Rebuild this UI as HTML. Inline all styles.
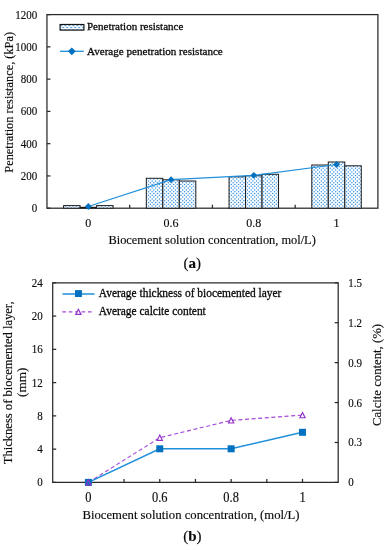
<!DOCTYPE html>
<html><head><meta charset="utf-8"><title>Figure</title>
<style>html,body{margin:0;padding:0;background:#fff}svg{display:block}text{font-family:"Liberation Serif",serif;fill:#0a0a0a;stroke:#0a0a0a;stroke-width:.15px}.lg{stroke-width:.3px}</style></head><body>
<svg width="392" height="550" viewBox="0 0 392 550">
<defs><pattern id="dots" width="18" height="18" patternUnits="userSpaceOnUse"><rect width="18" height="18" fill="#fff"/><g fill="#3391e5"><circle cx="0.900" cy="0.90" r="0.75"/><circle cx="2.700" cy="2.70" r="0.75"/><circle cx="0.900" cy="4.50" r="0.75"/><circle cx="2.700" cy="6.30" r="0.75"/><circle cx="0.900" cy="8.10" r="0.75"/><circle cx="2.700" cy="9.90" r="0.75"/><circle cx="0.900" cy="11.70" r="0.75"/><circle cx="2.700" cy="13.50" r="0.75"/><circle cx="0.900" cy="15.30" r="0.75"/><circle cx="2.700" cy="17.10" r="0.75"/><circle cx="4.500" cy="0.90" r="0.75"/><circle cx="6.300" cy="2.70" r="0.75"/><circle cx="4.500" cy="4.50" r="0.75"/><circle cx="6.300" cy="6.30" r="0.75"/><circle cx="4.500" cy="8.10" r="0.75"/><circle cx="6.300" cy="9.90" r="0.75"/><circle cx="4.500" cy="11.70" r="0.75"/><circle cx="6.300" cy="13.50" r="0.75"/><circle cx="4.500" cy="15.30" r="0.75"/><circle cx="6.300" cy="17.10" r="0.75"/><circle cx="8.100" cy="0.90" r="0.75"/><circle cx="9.900" cy="2.70" r="0.75"/><circle cx="8.100" cy="4.50" r="0.75"/><circle cx="9.900" cy="6.30" r="0.75"/><circle cx="8.100" cy="8.10" r="0.75"/><circle cx="9.900" cy="9.90" r="0.75"/><circle cx="8.100" cy="11.70" r="0.75"/><circle cx="9.900" cy="13.50" r="0.75"/><circle cx="8.100" cy="15.30" r="0.75"/><circle cx="9.900" cy="17.10" r="0.75"/><circle cx="11.700" cy="0.90" r="0.75"/><circle cx="13.500" cy="2.70" r="0.75"/><circle cx="11.700" cy="4.50" r="0.75"/><circle cx="13.500" cy="6.30" r="0.75"/><circle cx="11.700" cy="8.10" r="0.75"/><circle cx="13.500" cy="9.90" r="0.75"/><circle cx="11.700" cy="11.70" r="0.75"/><circle cx="13.500" cy="13.50" r="0.75"/><circle cx="11.700" cy="15.30" r="0.75"/><circle cx="13.500" cy="17.10" r="0.75"/><circle cx="15.300" cy="0.90" r="0.75"/><circle cx="17.100" cy="2.70" r="0.75"/><circle cx="15.300" cy="4.50" r="0.75"/><circle cx="17.100" cy="6.30" r="0.75"/><circle cx="15.300" cy="8.10" r="0.75"/><circle cx="17.100" cy="9.90" r="0.75"/><circle cx="15.300" cy="11.70" r="0.75"/><circle cx="17.100" cy="13.50" r="0.75"/><circle cx="15.300" cy="15.30" r="0.75"/><circle cx="17.100" cy="17.10" r="0.75"/></g></pattern><pattern id="dots2" width="4" height="4" patternUnits="userSpaceOnUse" patternTransform="translate(0.6 1)"><rect width="4" height="4" fill="#fff"/><circle cx="0.5" cy="0.5" r="0.85" fill="#2585dc"/><circle cx="2.5" cy="2.5" r="0.85" fill="#2585dc"/></pattern></defs>
<rect width="392" height="550" fill="#fff"/>
<rect x="46.95" y="14.6" width="330.95" height="193.6" fill="none" stroke="#2a2a2a" stroke-width="1.25"/>
<line x1="46.95" y1="208.20" x2="50.45" y2="208.20" stroke="#2a2a2a" stroke-width="1.25"/>
<text transform="translate(37.3 212.10) scale(0.86 1)" font-size="12.8" text-anchor="end">0</text>
<line x1="46.95" y1="175.93" x2="50.45" y2="175.93" stroke="#2a2a2a" stroke-width="1.25"/>
<text transform="translate(37.3 179.83) scale(0.86 1)" font-size="12.8" text-anchor="end">200</text>
<line x1="46.95" y1="143.67" x2="50.45" y2="143.67" stroke="#2a2a2a" stroke-width="1.25"/>
<text transform="translate(37.3 147.57) scale(0.86 1)" font-size="12.8" text-anchor="end">400</text>
<line x1="46.95" y1="111.40" x2="50.45" y2="111.40" stroke="#2a2a2a" stroke-width="1.25"/>
<text transform="translate(37.3 115.30) scale(0.86 1)" font-size="12.8" text-anchor="end">600</text>
<line x1="46.95" y1="79.13" x2="50.45" y2="79.13" stroke="#2a2a2a" stroke-width="1.25"/>
<text transform="translate(37.3 83.03) scale(0.86 1)" font-size="12.8" text-anchor="end">800</text>
<line x1="46.95" y1="46.87" x2="50.45" y2="46.87" stroke="#2a2a2a" stroke-width="1.25"/>
<text transform="translate(37.3 50.77) scale(0.86 1)" font-size="12.8" text-anchor="end">1000</text>
<line x1="46.95" y1="14.60" x2="50.45" y2="14.60" stroke="#2a2a2a" stroke-width="1.25"/>
<text transform="translate(37.3 18.50) scale(0.86 1)" font-size="12.8" text-anchor="end">1200</text>
<line x1="129.69" y1="208.2" x2="129.69" y2="204.7" stroke="#2a2a2a" stroke-width="1.25"/>
<line x1="212.43" y1="208.2" x2="212.43" y2="204.7" stroke="#2a2a2a" stroke-width="1.25"/>
<line x1="295.16" y1="208.2" x2="295.16" y2="204.7" stroke="#2a2a2a" stroke-width="1.25"/>
<text transform="translate(88.32 226.5) scale(0.89 1)" font-size="13.5" text-anchor="middle">0</text>
<text transform="translate(171.06 226.5) scale(0.89 1)" font-size="13.5" text-anchor="middle">0.6</text>
<text transform="translate(253.79 226.5) scale(0.89 1)" font-size="13.5" text-anchor="middle">0.8</text>
<text transform="translate(336.53 226.5) scale(0.89 1)" font-size="13.5" text-anchor="middle">1</text>
<rect x="63.57" y="205.6" width="16.5" height="2.60" fill="url(#dots)" stroke="#1c1c1c" stroke-width="1"/>
<rect x="80.07" y="207.3" width="16.5" height="0.90" fill="url(#dots)" stroke="#1c1c1c" stroke-width="1"/>
<rect x="96.57" y="205.6" width="16.5" height="2.60" fill="url(#dots)" stroke="#1c1c1c" stroke-width="1"/>
<rect x="146.31" y="178.3" width="16.5" height="29.90" fill="url(#dots)" stroke="#1c1c1c" stroke-width="1"/>
<rect x="162.81" y="179.8" width="16.5" height="28.40" fill="url(#dots)" stroke="#1c1c1c" stroke-width="1"/>
<rect x="179.31" y="181" width="16.5" height="27.20" fill="url(#dots)" stroke="#1c1c1c" stroke-width="1"/>
<rect x="229.04" y="176.8" width="16.5" height="31.40" fill="url(#dots)" stroke="#1c1c1c" stroke-width="1"/>
<rect x="245.54" y="175.8" width="16.5" height="32.40" fill="url(#dots)" stroke="#1c1c1c" stroke-width="1"/>
<rect x="262.04" y="174.3" width="16.5" height="33.90" fill="url(#dots)" stroke="#1c1c1c" stroke-width="1"/>
<rect x="311.78" y="165" width="16.5" height="43.20" fill="url(#dots)" stroke="#1c1c1c" stroke-width="1"/>
<rect x="328.28" y="162" width="16.5" height="46.20" fill="url(#dots)" stroke="#1c1c1c" stroke-width="1"/>
<rect x="344.78" y="165.8" width="16.5" height="42.40" fill="url(#dots)" stroke="#1c1c1c" stroke-width="1"/>
<polyline points="88.32,206.5 171.06,179.7 253.79,175.3 336.53,164.5" fill="none" stroke="#1f8fdc" stroke-width="1.2"/>
<path d="M84.92 206.5 L88.32 203.1 L91.72 206.5 L88.32 209.9 Z" fill="#0070c0"/>
<path d="M167.66 179.7 L171.06 176.29999999999998 L174.46 179.7 L171.06 183.1 Z" fill="#0070c0"/>
<path d="M250.39 175.3 L253.79 171.9 L257.19 175.3 L253.79 178.70000000000002 Z" fill="#0070c0"/>
<path d="M333.13 164.5 L336.53 161.1 L339.93 164.5 L336.53 167.9 Z" fill="#0070c0"/>
<rect x="60.1" y="24.5" width="23.8" height="5.6" fill="url(#dots2)" stroke="#111" stroke-width="1.2"/>
<text x="87" y="30.3" font-size="11.4" textLength="96.3" lengthAdjust="spacingAndGlyphs" class="lg">Penetration resistance</text>
<line x1="60" y1="51.3" x2="83.8" y2="51.3" stroke="#1f8fdc" stroke-width="1.3"/>
<path d="M67.90 51.3 L71.80 47.4 L75.70 51.3 L71.80 55.199999999999996 Z" fill="#0070c0"/>
<text x="87" y="55.4" font-size="11.4" textLength="135.8" lengthAdjust="spacingAndGlyphs" class="lg">Average penetration resistance</text>
<text x="108.5" y="243.5" font-size="12.3" textLength="207.3" lengthAdjust="spacingAndGlyphs">Biocement solution concentration, mol/L)</text>
<text transform="translate(13.4 172.7) rotate(-90)" font-size="12.3" textLength="140.7" lengthAdjust="spacingAndGlyphs">Penetration resistance, (kPa)</text>
<text x="183.4" y="267.8" font-size="15">(<tspan font-weight="bold">a</tspan>)</text>
<path d="M52.7 282.8 H338.2 V482.4 H52.7 Z" fill="none" stroke="#2a2a2a" stroke-width="1.25"/>
<line x1="52.7" y1="482.40" x2="56.2" y2="482.40" stroke="#2a2a2a" stroke-width="1.25"/>
<text transform="translate(42.8 486.40) scale(0.86 1)" font-size="12.8" text-anchor="end">0</text>
<line x1="52.7" y1="449.13" x2="56.2" y2="449.13" stroke="#2a2a2a" stroke-width="1.25"/>
<text transform="translate(42.8 453.13) scale(0.86 1)" font-size="12.8" text-anchor="end">4</text>
<line x1="52.7" y1="415.87" x2="56.2" y2="415.87" stroke="#2a2a2a" stroke-width="1.25"/>
<text transform="translate(42.8 419.87) scale(0.86 1)" font-size="12.8" text-anchor="end">8</text>
<line x1="52.7" y1="382.60" x2="56.2" y2="382.60" stroke="#2a2a2a" stroke-width="1.25"/>
<text transform="translate(42.8 386.60) scale(0.86 1)" font-size="12.8" text-anchor="end">12</text>
<line x1="52.7" y1="349.33" x2="56.2" y2="349.33" stroke="#2a2a2a" stroke-width="1.25"/>
<text transform="translate(42.8 353.33) scale(0.86 1)" font-size="12.8" text-anchor="end">16</text>
<line x1="52.7" y1="316.07" x2="56.2" y2="316.07" stroke="#2a2a2a" stroke-width="1.25"/>
<text transform="translate(42.8 320.07) scale(0.86 1)" font-size="12.8" text-anchor="end">20</text>
<line x1="52.7" y1="282.80" x2="56.2" y2="282.80" stroke="#2a2a2a" stroke-width="1.25"/>
<text transform="translate(42.8 286.80) scale(0.86 1)" font-size="12.8" text-anchor="end">24</text>
<line x1="338.2" y1="482.40" x2="334.7" y2="482.40" stroke="#2a2a2a" stroke-width="1.25"/>
<text transform="translate(348.3 486.40) scale(0.86 1)" font-size="12.8">0</text>
<line x1="338.2" y1="442.48" x2="334.7" y2="442.48" stroke="#2a2a2a" stroke-width="1.25"/>
<text transform="translate(348.3 446.48) scale(0.86 1)" font-size="12.8">0.3</text>
<line x1="338.2" y1="402.56" x2="334.7" y2="402.56" stroke="#2a2a2a" stroke-width="1.25"/>
<text transform="translate(348.3 406.56) scale(0.86 1)" font-size="12.8">0.6</text>
<line x1="338.2" y1="362.64" x2="334.7" y2="362.64" stroke="#2a2a2a" stroke-width="1.25"/>
<text transform="translate(348.3 366.64) scale(0.86 1)" font-size="12.8">0.9</text>
<line x1="338.2" y1="322.72" x2="334.7" y2="322.72" stroke="#2a2a2a" stroke-width="1.25"/>
<text transform="translate(348.3 326.72) scale(0.86 1)" font-size="12.8">1.2</text>
<line x1="338.2" y1="282.80" x2="334.7" y2="282.80" stroke="#2a2a2a" stroke-width="1.25"/>
<text transform="translate(348.3 286.80) scale(0.86 1)" font-size="12.8">1.5</text>
<line x1="88.39" y1="482.4" x2="88.39" y2="478.9" stroke="#2a2a2a" stroke-width="1.25"/>
<line x1="124.08" y1="482.4" x2="124.08" y2="478.9" stroke="#2a2a2a" stroke-width="1.25"/>
<line x1="159.76" y1="482.4" x2="159.76" y2="478.9" stroke="#2a2a2a" stroke-width="1.25"/>
<line x1="195.45" y1="482.4" x2="195.45" y2="478.9" stroke="#2a2a2a" stroke-width="1.25"/>
<line x1="231.14" y1="482.4" x2="231.14" y2="478.9" stroke="#2a2a2a" stroke-width="1.25"/>
<line x1="266.82" y1="482.4" x2="266.82" y2="478.9" stroke="#2a2a2a" stroke-width="1.25"/>
<line x1="302.51" y1="482.4" x2="302.51" y2="478.9" stroke="#2a2a2a" stroke-width="1.25"/>
<text transform="translate(88.39 501.7) scale(0.877 1)" font-size="14.2" text-anchor="middle">0</text>
<text transform="translate(159.76 501.7) scale(0.877 1)" font-size="14.2" text-anchor="middle">0.6</text>
<text transform="translate(231.14 501.7) scale(0.877 1)" font-size="14.2" text-anchor="middle">0.8</text>
<text transform="translate(302.51 501.7) scale(0.877 1)" font-size="14.2" text-anchor="middle">1</text>
<polyline points="88.39,482.4 159.76,437.7 231.14,420.4 302.51,415.1" fill="none" stroke="#a448da" stroke-width="1.15" stroke-dasharray="4 2.6"/>
<polyline points="88.39,482.4 159.76,448.8 231.14,448.8 302.51,432.3" fill="none" stroke="#1f8fdc" stroke-width="1.55"/>
<rect x="84.89" y="478.90" width="7" height="7" fill="#0070c0"/>
<rect x="156.26" y="445.30" width="7" height="7" fill="#0070c0"/>
<rect x="227.64" y="445.30" width="7" height="7" fill="#0070c0"/>
<rect x="299.01" y="428.80" width="7" height="7" fill="#0070c0"/>
<path d="M88.39 479.80 L90.99 485.00 L85.79 485.00 Z" fill="none" stroke="#9030c8" stroke-width="1.15"/>
<path d="M159.76 435.10 L162.36 440.30 L157.16 440.30 Z" fill="#fff" stroke="#9030c8" stroke-width="1.15"/>
<path d="M231.14 417.80 L233.74 423.00 L228.54 423.00 Z" fill="#fff" stroke="#9030c8" stroke-width="1.15"/>
<path d="M302.51 412.50 L305.11 417.70 L299.91 417.70 Z" fill="#fff" stroke="#9030c8" stroke-width="1.15"/>
<line x1="62.5" y1="293.9" x2="94.5" y2="293.9" stroke="#1f8fdc" stroke-width="1.55"/>
<rect x="75" y="290.1" width="6.9" height="6.9" fill="#0070c0"/>
<text x="98.8" y="297.4" font-size="11.8" textLength="182.6" lengthAdjust="spacingAndGlyphs" class="lg">Average thickness of biocemented layer</text>
<line x1="62.3" y1="311.8" x2="93" y2="311.8" stroke="#a448da" stroke-width="1.3" stroke-dasharray="3.7 2.7"/>
<path d="M78.40 309.20 L81.00 314.40 L75.80 314.40 Z" fill="#fff" stroke="#9030c8" stroke-width="1.15"/>
<text x="98.8" y="314.9" font-size="11.8" textLength="107" lengthAdjust="spacingAndGlyphs" class="lg">Average calcite content</text>
<text x="82.5" y="518.8" font-size="12.7" textLength="217" lengthAdjust="spacingAndGlyphs">Biocement solution concentration, (mol/L)</text>
<text transform="translate(11.7 464.3) rotate(-90)" font-size="12.8" textLength="163" lengthAdjust="spacingAndGlyphs">Thickness of biocemented layer,</text>
<text transform="translate(25.6 397) rotate(-90)" font-size="12.4" textLength="29.4" lengthAdjust="spacingAndGlyphs">(mm)</text>
<text transform="translate(380.6 426) rotate(-90)" font-size="12.4" textLength="102" lengthAdjust="spacingAndGlyphs">Calcite content, (%)</text>
<text x="183.2" y="540.5" font-size="15">(<tspan font-weight="bold">b</tspan>)</text>
</svg></body></html>
